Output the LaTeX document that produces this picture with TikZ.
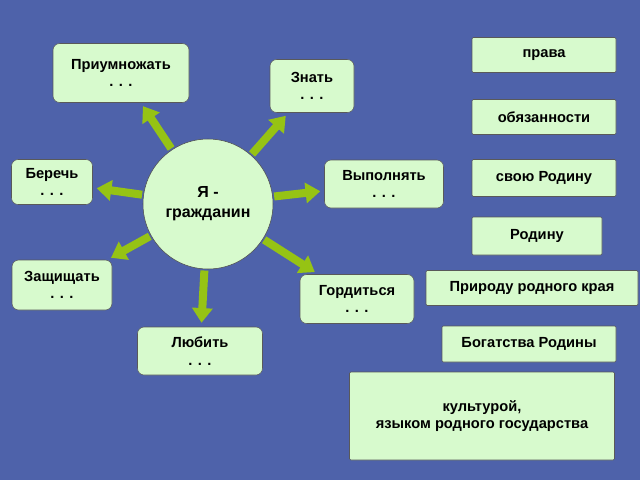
\documentclass[tikz,border=0pt]{standalone}
\usepackage{fontspec}
\setmainfont{Liberation Sans}
\usetikzlibrary{arrows.meta}
\definecolor{bg}{RGB}{78,98,170}
\definecolor{boxg}{RGB}{215,250,205}
\definecolor{arrg}{RGB}{150,195,20}
\begin{document}
\begin{tikzpicture}[x=0.75pt,y=-0.75pt,
 box/.style={draw=gray!70!black,fill=boxg,rounded corners=5pt,font=\bfseries\fontsize{11}{13}\selectfont,align=center,inner sep=2pt},
 arr/.style={line width=6pt,draw=arrg,-{Triangle[width=15pt,length=11pt]},shorten >=3pt,shorten <=1pt}]
\fill[bg] (0,0) rectangle (640,480);
\useasboundingbox (0,0) rectangle (640,480);
\node[circle,draw=gray!60!black,fill=boxg,minimum size=130*0.75pt,font=\bfseries\fontsize{12}{15}\selectfont,align=center] (c) at (208,204) {Я -\\гражданин};
\node[box,minimum width=136*0.75pt,minimum height=59*0.75pt] (p1) at (121,73) {Приумножать\\. . .};
\node[box,minimum width=84*0.75pt,minimum height=53*0.75pt] (p2) at (312,86) {Знать\\. . .};
\node[box,minimum width=81*0.75pt,minimum height=45*0.75pt] (p3) at (52,182) {Беречь\\. . .};
\node[box,minimum width=119*0.75pt,minimum height=48*0.75pt] (p4) at (384,184) {Выполнять\\. . .};
\node[box,minimum width=100*0.75pt,minimum height=50*0.75pt] (p5) at (62,285) {Защищать\\. . .};
\node[box,minimum width=114*0.75pt,minimum height=49*0.75pt] (p6) at (357,299) {Гордиться\\. . .};
\node[box,minimum width=125*0.75pt,minimum height=48*0.75pt] (p7) at (200,351) {Любить\\. . .};
\node[box,rounded corners=1pt,minimum width=144*0.75pt,minimum height=35*0.75pt] (r1) at (544,55) {права};
\node[box,rounded corners=1pt,minimum width=144*0.75pt,minimum height=35*0.75pt] (r2) at (544,117) {обязанности};
\node[box,rounded corners=1pt,minimum width=144*0.75pt,minimum height=37*0.75pt] (r3) at (544,178) {свою Родину};
\node[box,rounded corners=1pt,minimum width=130*0.75pt,minimum height=38*0.75pt] (r4) at (537,236) {Родину};
\node[box,rounded corners=1pt,minimum width=212*0.75pt,minimum height=35*0.75pt] (r5) at (532,288) {Природу родного края};
\node[box,rounded corners=1pt,minimum width=174*0.75pt,minimum height=36*0.75pt] (r6) at (529,344) {Богатства Родины};
\node[box,rounded corners=1pt,minimum width=265*0.75pt,minimum height=88*0.75pt] (r7) at (482,416) {культурой,\\языком родного государства};
\foreach \t in {p1,p2,p3,p4,p5,p6,p7} \draw[arr] (c) -- (\t);
\end{tikzpicture}
\end{document}
